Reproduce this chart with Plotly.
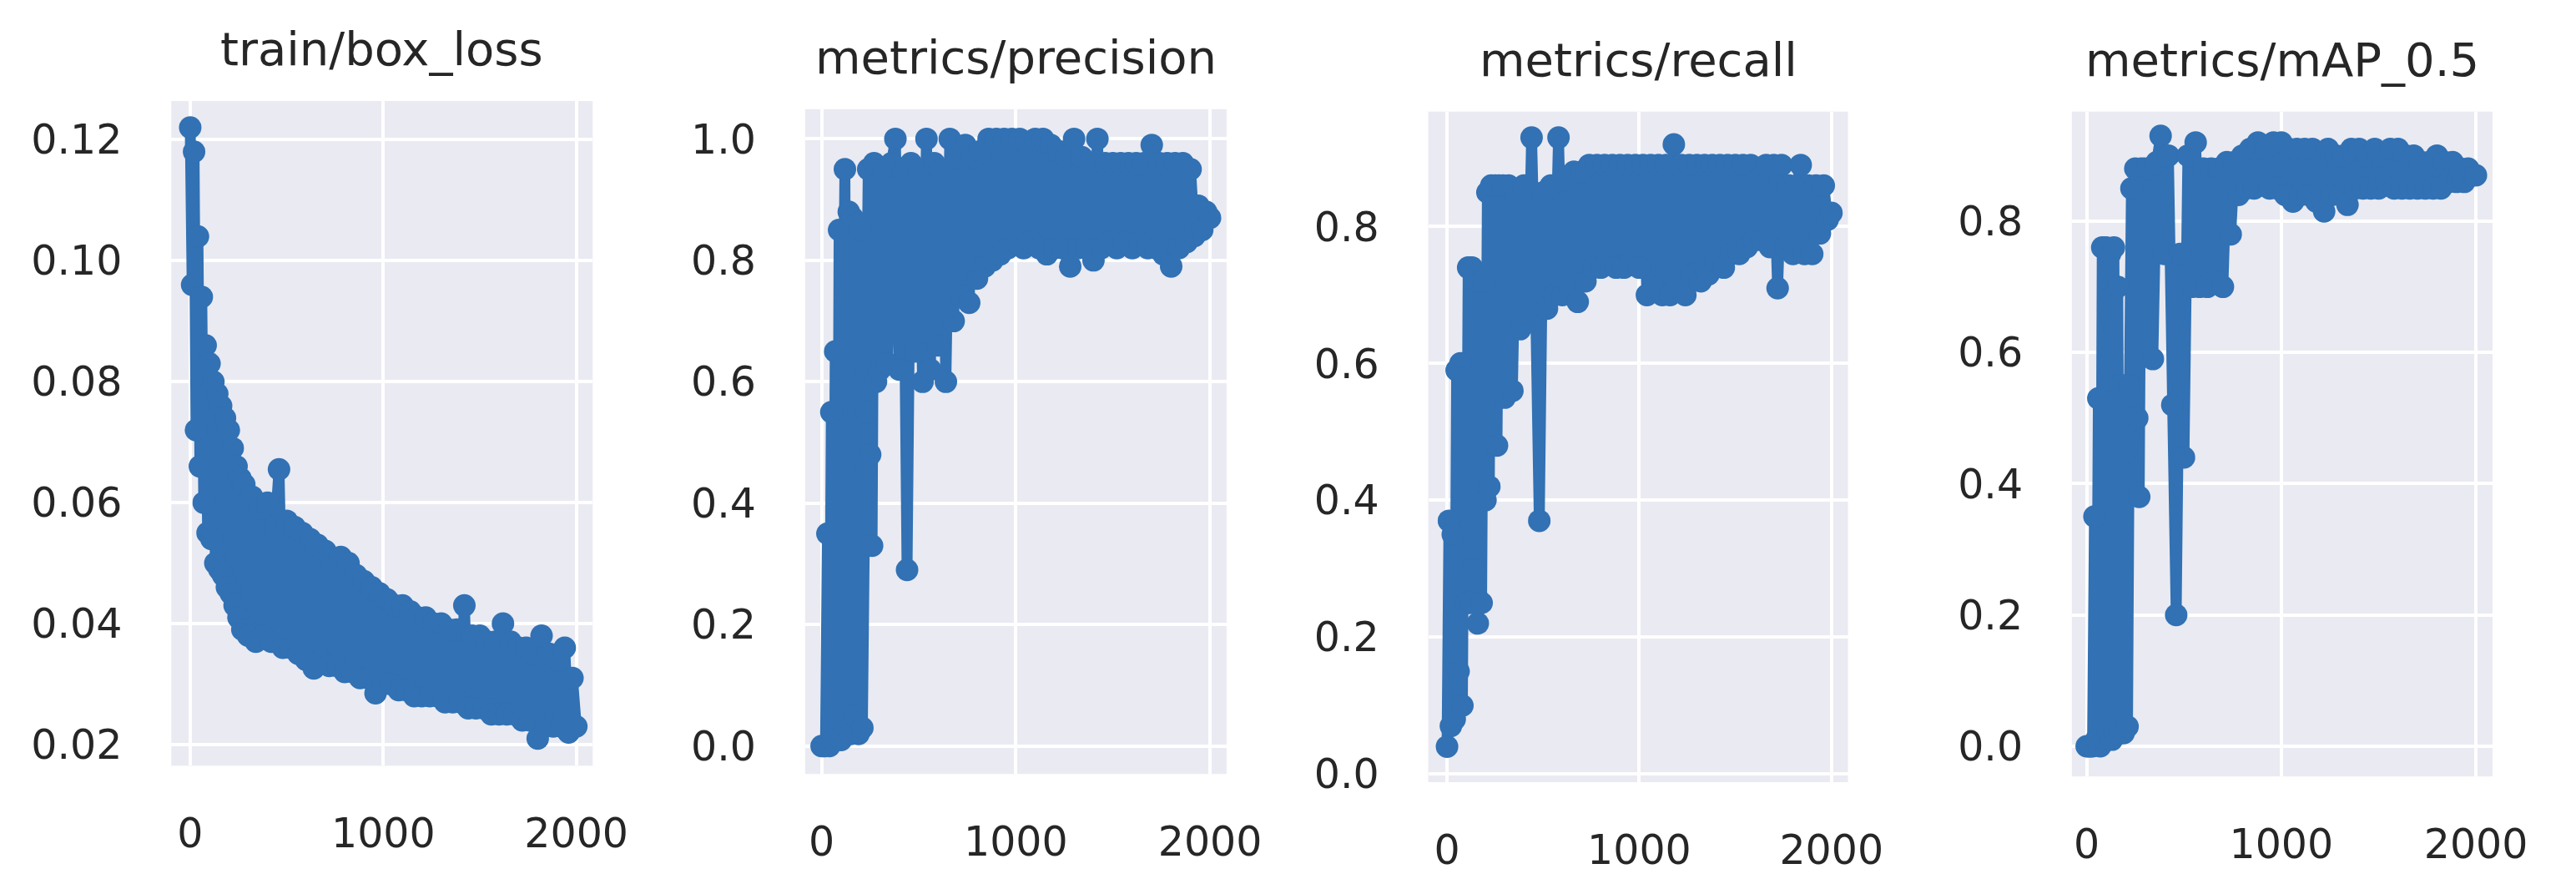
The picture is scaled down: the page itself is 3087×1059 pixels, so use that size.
import plotly.graph_objects as go

epochen = [0, 10, 20, 30, 40, 50, 60, 70, 80, 90,
           100, 110, 120, 130, 140, 150, 160, 170, 180, 190,
           200, 210, 220, 230, 240, 250, 260, 270, 280, 290,
           300, 320, 340, 360, 380,
           400, 420, 440, 460, 480, 500, 520, 540, 560, 580,
           600, 620, 640, 660, 680, 700, 720, 740, 760, 780,
           800, 820, 840, 860, 880, 900, 920, 940, 960, 980,
           1000, 1020, 1040, 1060, 1080, 1100, 1120, 1140, 1160, 1180,
           1200, 1220, 1240, 1260, 1280, 1300, 1320, 1340, 1360, 1380,
           1400, 1420, 1440, 1460, 1480, 1500, 1520, 1540, 1560, 1580,
           1600, 1620, 1640, 1660, 1680, 1700, 1720, 1740, 1760, 1780,
           1800, 1820, 1840, 1860, 1880, 1900, 1920, 1940, 1960, 1980,
           2000]

box_loss = [0.122, 0.096, 0.118, 0.072, 0.104, 0.066, 0.094, 0.060, 0.086, 0.055,
            0.083, 0.054, 0.080, 0.050, 0.078, 0.049, 0.076, 0.048, 0.074, 0.046,
            0.072, 0.045, 0.069, 0.043, 0.066, 0.041, 0.064, 0.039, 0.063, 0.039,
            0.038, 0.061, 0.037, 0.059, 0.038,
            0.060, 0.037, 0.056, 0.0655, 0.036, 0.057, 0.036, 0.056, 0.035, 0.055,
            0.034, 0.054, 0.0326, 0.053, 0.034, 0.052, 0.033, 0.050, 0.033, 0.051,
            0.032, 0.050, 0.032, 0.048, 0.031, 0.047, 0.031, 0.046, 0.0285, 0.045,
            0.030, 0.044, 0.030, 0.043, 0.029, 0.043, 0.029, 0.042, 0.028, 0.041,
            0.028, 0.041, 0.028, 0.040, 0.028, 0.040, 0.027, 0.039, 0.027, 0.039,
            0.027, 0.043, 0.026, 0.038, 0.026, 0.038, 0.026, 0.037, 0.025, 0.037,
            0.025, 0.040, 0.025, 0.037, 0.025, 0.036, 0.024, 0.036, 0.024, 0.035,
            0.021, 0.038, 0.023, 0.035, 0.023, 0.034, 0.023, 0.036, 0.022, 0.031,
            0.023]

precision = [0.0, 0.0, 0.0, 0.35, 0.0, 0.55, 0.01, 0.65, 0.02, 0.85,
             0.01, 0.62, 0.95, 0.03, 0.88, 0.02, 0.87, 0.05, 0.86, 0.02,
             0.85, 0.03, 0.45, 0.55, 0.95, 0.48, 0.33, 0.96, 0.60, 0.95,
             0.62, 0.95, 0.63, 0.96, 1.0,
             0.62, 0.95, 0.29, 0.96, 0.65, 0.95, 0.60, 1.0, 0.62, 0.96,
             0.66, 0.95, 0.60, 1.0, 0.70, 0.97, 0.74, 0.99, 0.73, 0.97,
             0.77, 0.98, 0.79, 1.0, 0.80, 1.0, 0.81, 1.0, 0.82, 1.0,
             0.83, 1.0, 0.82, 0.99, 0.83, 1.0, 0.82, 1.0, 0.81, 0.99,
             0.82, 0.98, 0.82, 0.97, 0.79, 1.0, 0.82, 0.97, 0.82, 0.96,
             0.80, 1.0, 0.82, 0.96, 0.83, 0.96, 0.82, 0.96, 0.83, 0.96,
             0.82, 0.96, 0.83, 0.96, 0.82, 0.99, 0.82, 0.96, 0.81, 0.96,
             0.79, 0.96, 0.82, 0.96, 0.83, 0.95, 0.84, 0.89, 0.85, 0.88,
             0.87]

recall = [0.04, 0.37, 0.07, 0.35, 0.08, 0.59, 0.15, 0.60, 0.10, 0.58,
          0.25, 0.74, 0.25, 0.74, 0.30, 0.72, 0.22, 0.72, 0.25, 0.72,
          0.40, 0.85, 0.42, 0.86, 0.48, 0.86, 0.48, 0.86, 0.56, 0.86,
          0.55, 0.86, 0.56, 0.85, 0.65,
          0.86, 0.66, 0.93, 0.70, 0.37, 0.85, 0.68, 0.86, 0.70, 0.93,
          0.70, 0.87, 0.71, 0.88, 0.69, 0.88, 0.72, 0.89, 0.74, 0.89,
          0.74, 0.89, 0.75, 0.89, 0.74, 0.89, 0.74, 0.89, 0.75, 0.89,
          0.74, 0.89, 0.70, 0.89, 0.71, 0.89, 0.70, 0.89, 0.70, 0.92,
          0.71, 0.89, 0.70, 0.89, 0.73, 0.89, 0.72, 0.89, 0.73, 0.89,
          0.75, 0.89, 0.74, 0.89, 0.76, 0.89, 0.76, 0.89, 0.77, 0.89,
          0.78, 0.87, 0.78, 0.89, 0.77, 0.89, 0.71, 0.89, 0.77, 0.86,
          0.76, 0.86, 0.89, 0.76, 0.86, 0.76, 0.86, 0.79, 0.86, 0.81,
          0.82]

map_05 = [0.0, 0.0, 0.0, 0.0, 0.35, 0.01, 0.53, 0.0, 0.76, 0.01,
          0.76, 0.02, 0.75, 0.01, 0.76, 0.02, 0.70, 0.02, 0.55, 0.02,
          0.45, 0.03, 0.55, 0.85, 0.50, 0.88, 0.50, 0.38, 0.88, 0.60,
          0.88, 0.88, 0.59, 0.89, 0.93,
          0.75, 0.90, 0.52, 0.20, 0.75, 0.44, 0.90, 0.70, 0.92, 0.70,
          0.88, 0.70, 0.88, 0.71, 0.88, 0.70, 0.89, 0.78, 0.89, 0.84,
          0.90, 0.85, 0.91, 0.85, 0.92, 0.86, 0.91, 0.85, 0.92, 0.85,
          0.92, 0.84, 0.91, 0.83, 0.91, 0.84, 0.91, 0.84, 0.91, 0.83,
          0.90, 0.815, 0.91, 0.84, 0.90, 0.84, 0.90, 0.825, 0.91, 0.85,
          0.91, 0.85, 0.90, 0.85, 0.91, 0.85, 0.90, 0.86, 0.91, 0.85,
          0.91, 0.85, 0.90, 0.85, 0.90, 0.85, 0.89, 0.85, 0.89, 0.85,
          0.90, 0.85, 0.89, 0.86, 0.89, 0.86, 0.88, 0.86, 0.88, 0.87,
          0.87]

titel = ["train/box_loss", "metrics/precision", "metrics/recall", "metrics/mAP_0.5"]
serien = [box_loss, precision, recall, map_05]
x_ticks = [0, 1000, 2000]
y_ticks = [
    [0.02, 0.04, 0.06, 0.08, 0.10, 0.12],
    [0.0, 0.2, 0.4, 0.6, 0.8, 1.0],
    [0.0, 0.2, 0.4, 0.6, 0.8],
    [0.0, 0.2, 0.4, 0.6, 0.8],
]
y_format = [".2f", ".1f", ".1f", ".1f"]

# Geometrie der vier Achsen in Pixeln (links, rechts, oben, unten) und Achsenbereiche
B, H = 3087, 1059
pixel_boxen = [(200, 712, 115, 926), (970, 1482, 125, 936),
               (1727, 2237, 128, 946), (2509, 3020, 128, 939)]
x_bereiche = [[-98, 2085], [-85, 2085], [-98, 2086], [-76, 2085]]
y_bereiche = [[0.0165, 0.1264], [-0.046, 1.049], [-0.012, 0.968], [-0.046, 0.967]]

BLAU = "#3171b4"
TEXT = "#262626"
FONT = "DejaVu Sans"

fig = go.Figure()
annotationen = []
layout_achsen = {}

for i, (name, werte) in enumerate(zip(titel, serien)):
    n = "" if i == 0 else str(i + 1)
    fig.add_trace(go.Scatter(
        x=epochen, y=werte, mode="lines+markers",
        line=dict(color=BLAU, width=13),
        marker=dict(color=BLAU, size=27, line=dict(width=0)),
        xaxis="x" + n, yaxis="y" + n, showlegend=False, hoverinfo="skip"))

    l, r, t, b = pixel_boxen[i]
    layout_achsen["xaxis" + n] = dict(
        domain=[l / B, r / B], range=x_bereiche[i], anchor="y" + n,
        tickvals=x_ticks, showgrid=True, gridcolor="white", gridwidth=4,
        zeroline=False, showline=False, ticks="outside", ticklen=38,
        tickcolor="rgba(0,0,0,0)", tickfont=dict(size=49, color=TEXT, family=FONT))
    layout_achsen["yaxis" + n] = dict(
        domain=[1 - b / H, 1 - t / H], range=y_bereiche[i], anchor="x" + n,
        tickvals=y_ticks[i], tickformat=y_format[i], showgrid=True,
        gridcolor="white", gridwidth=4, zeroline=False, showline=False,
        ticks="outside", ticklen=48, tickcolor="rgba(0,0,0,0)",
        tickfont=dict(size=49, color=TEXT, family=FONT))

    annotationen.append(dict(
        text=name, x=(l + r) / 2 / B, y=1 - t / H, xref="paper", yref="paper",
        xanchor="center", yanchor="bottom", yshift=28, showarrow=False,
        font=dict(size=56, color=TEXT, family=FONT)))

fig.update_layout(
    width=B, height=H, margin=dict(l=0, r=0, t=0, b=0),
    paper_bgcolor="white", plot_bgcolor="#eaeaf2",
    annotations=annotationen, **layout_achsen)

fig.write_html("out.html")
